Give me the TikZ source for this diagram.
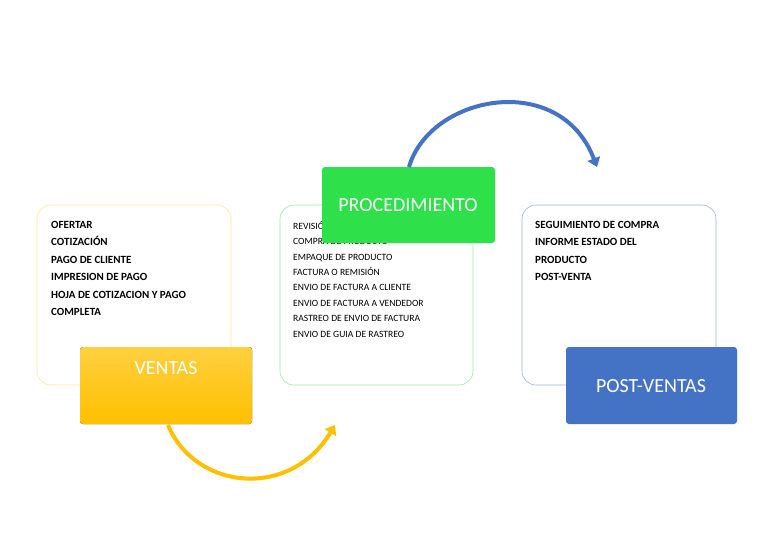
\documentclass[tikz,border=0pt]{standalone}
\usepackage{fontspec}
\setmainfont{Carlito}
\usetikzlibrary{arrows.meta}
\definecolor{yel}{HTML}{FFC000}
\definecolor{yelb}{HTML}{FFE699}
\definecolor{grn}{HTML}{2EE04A}
\definecolor{grnb}{HTML}{9EE8A8}
\definecolor{blu}{HTML}{4472C4}
\definecolor{blub}{HTML}{9DB4DE}
\begin{document}
\begin{tikzpicture}[x=1pt,y=-1pt,
 panel/.style={line width=0.6pt,rounded corners=14pt,fill=white},
 lab/.style={rounded corners=3pt,text=white,font=\fontsize{20}{20}\selectfont},
 lst/.style={anchor=north west,align=left,inner sep=0pt,font=\fontsize{11}{17.5}\selectfont\bfseries},
 arr/.style={line width=4pt,-{Triangle[length=9pt,width=13pt]}}]
\useasboundingbox (0,0) rectangle (768,543);
\fill[white] (0,0) rectangle (768,543);
% panels
\draw[panel,draw=yelb] (37,205) rectangle (231,385);
\draw[panel,draw=grnb] (280,205) rectangle (473,385);
\draw[panel,draw=blub] (522,205) rectangle (716,385);
\node[lst] (tv) at (51,221) {OFERTAR\\COTIZACIÓN\\PAGO DE CLIENTE\\IMPRESION DE PAGO\\HOJA DE COTIZACION Y PAGO\\COMPLETA};
\node[lst,font=\fontsize{9.6}{15.4}\selectfont] (tp) at (293,221) {REVISIÓN DE PEDIDO\\COMPRA DE PRODUCTO\\EMPAQUE DE PRODUCTO\\FACTURA O REMISIÓN\\ENVIO DE FACTURA A CLIENTE\\ENVIO DE FACTURA A VENDEDOR\\RASTREO DE ENVIO DE FACTURA\\ENVIO DE GUIA DE RASTREO};
\node[lst] (tr) at (535,221) {SEGUIMIENTO DE COMPRA\\INFORME ESTADO DEL\\PRODUCTO\\POST-VENTA};
% labels
\fill[lab,top color=yel!75,bottom color=yel] (80,347) rectangle (252,424);
\node[lab] (v) at (166,368) {VENTAS};
\fill[lab,grn] (322,167) rectangle (495,243);
\node[lab] (p) at (408,205) {PROCEDIMIENTO};
\fill[lab,blu] (566,347) rectangle (737,424);
\node[lab] (pv) at (651,386) {POST-VENTAS};
% arrows
\coordinate (a1) at (168,425); \coordinate (a2) at (335,425);
\draw[arr,yel] (a1) .. controls (195,490) and (290,500) .. (a2);
\coordinate (b1) at (409,167); \coordinate (b2) at (597,167);
\draw[arr,blu] (b1) .. controls (430,95) and (560,70) .. (b2);
\end{tikzpicture}
\end{document}
